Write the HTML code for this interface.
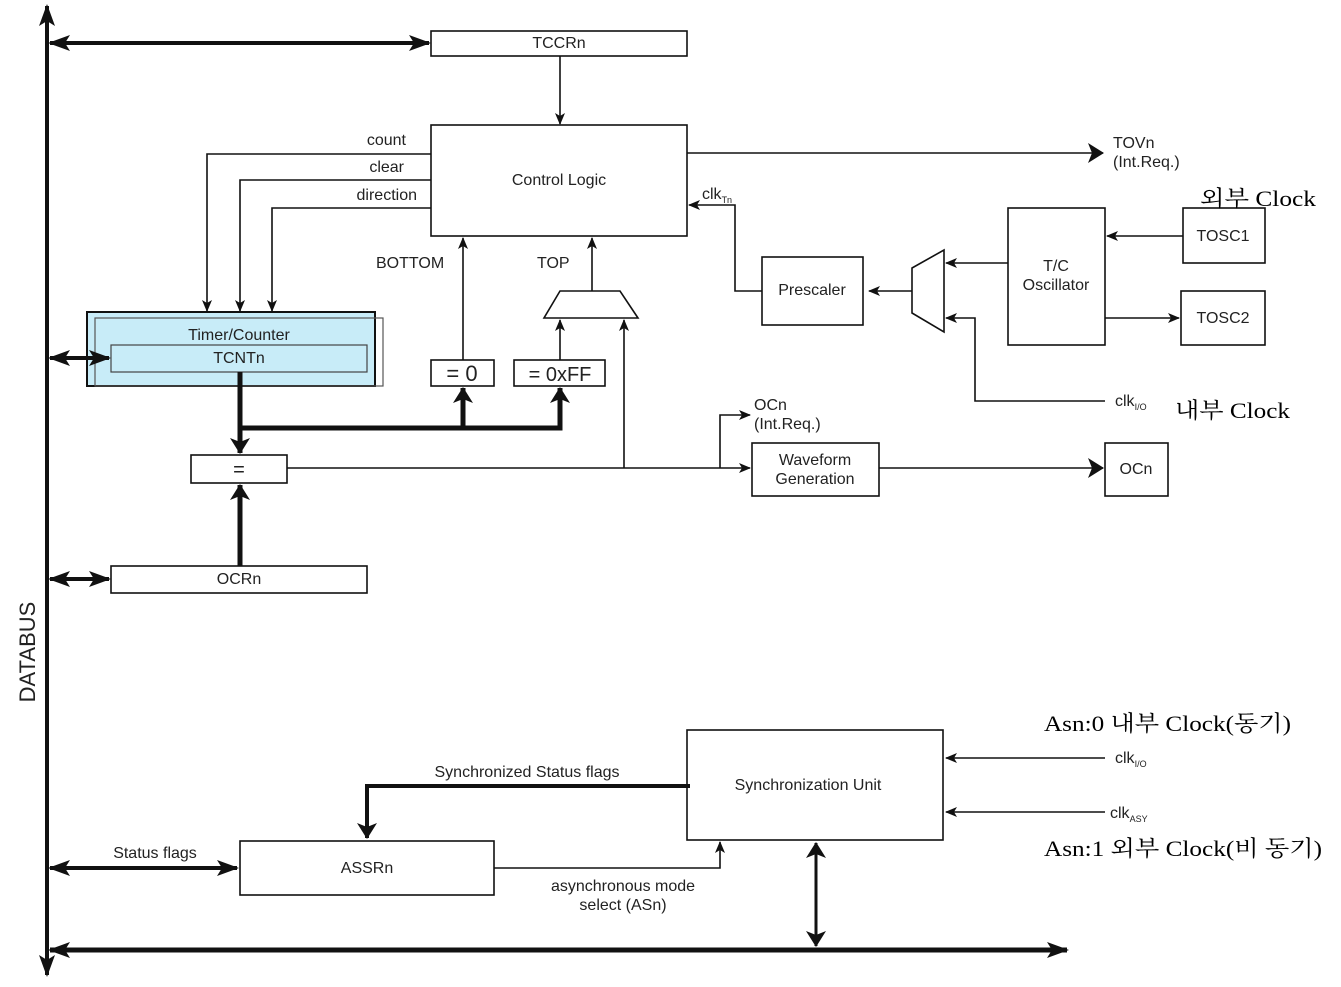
<!DOCTYPE html>
<html><head><meta charset="utf-8"><style>
html,body{margin:0;padding:0;background:#fff;}
svg{display:block;}
text{font-family:"Liberation Sans",sans-serif;fill:#222;font-size:16px;}
.k{font-family:"Liberation Serif","Noto Serif CJK SC","Noto Sans CJK KR",serif;font-size:22px;fill:#000;}
</style></head><body>
<svg width="1341" height="987" viewBox="0 0 1341 987" xmlns="http://www.w3.org/2000/svg">
<defs>
<marker id="a" markerWidth="12" markerHeight="10" refX="11" refY="5" orient="auto-start-reverse" markerUnits="userSpaceOnUse"><path d="M0,0 L12,5 L0,10 L3,5 z" fill="#111"/></marker>
<marker id="b" markerWidth="22" markerHeight="16" refX="20" refY="8" orient="auto-start-reverse" markerUnits="userSpaceOnUse"><path d="M0,0 L22,8 L0,16 L5,8 z" fill="#111"/></marker>
<marker id="c" markerWidth="16" markerHeight="20" refX="15" refY="10" orient="auto-start-reverse" markerUnits="userSpaceOnUse"><path d="M0,0 L16,10 L0,20 L4,10 z" fill="#111"/></marker>
</defs>
<g stroke="#111" fill="none" stroke-width="1.6">
<!-- databus -->
<line x1="47" y1="6" x2="47" y2="975" stroke-width="4" marker-start="url(#b)" marker-end="url(#b)"/>
<line x1="50" y1="950" x2="1067" y2="950" stroke-width="5" marker-start="url(#b)" marker-end="url(#b)"/>
<line x1="50" y1="43" x2="429" y2="43" stroke-width="4" marker-start="url(#b)" marker-end="url(#b)"/>
<line x1="50" y1="579" x2="109" y2="579" stroke-width="4" marker-start="url(#b)" marker-end="url(#b)"/>
<line x1="50" y1="868" x2="237" y2="868" stroke-width="4" marker-start="url(#b)" marker-end="url(#b)"/>
<!-- boxes -->
<rect x="431" y="31" width="256" height="25"/>
<rect x="431" y="125" width="256" height="111"/>
<rect x="87" y="312" width="288" height="74" fill="#c8ecf8" stroke-width="2"/>
<rect x="95" y="318" width="288" height="68" stroke="#555" stroke-width="1.2"/>
<rect x="111" y="345" width="256" height="27" stroke="#444" stroke-width="1.2"/>
<line x1="50" y1="358" x2="109" y2="358" stroke-width="4" marker-start="url(#b)" marker-end="url(#b)"/>
<rect x="431" y="360" width="63" height="26"/>
<rect x="514" y="360" width="91" height="26"/>
<rect x="191" y="455" width="96" height="28"/>
<rect x="111" y="566" width="256" height="27"/>
<rect x="752" y="443" width="127" height="53"/>
<rect x="1105" y="443" width="63" height="53"/>
<rect x="762" y="257" width="101" height="68"/>
<rect x="1008" y="208" width="97" height="137"/>
<rect x="1183" y="208" width="82" height="55"/>
<rect x="1181" y="291" width="84" height="54"/>
<rect x="687" y="730" width="256" height="110"/>
<rect x="240" y="841" width="254" height="54"/>
<path d="M560,291 L620,291 L638,318 L544,318 Z"/>
<path d="M944,250 L944,332 L912,313 L912,268 Z"/>
<!-- thin connectors -->
<line x1="560" y1="56" x2="560" y2="124" marker-end="url(#a)"/>
<line x1="687" y1="153" x2="1103" y2="153" marker-end="url(#c)"/>
<polyline points="431,154 207,154 207,311" marker-end="url(#a)"/>
<polyline points="431,180 240,180 240,311" marker-end="url(#a)"/>
<polyline points="431,208 272,208 272,311" marker-end="url(#a)"/>
<line x1="463" y1="360" x2="463" y2="238" marker-end="url(#a)"/>
<line x1="592" y1="291" x2="592" y2="238" marker-end="url(#a)"/>
<line x1="560" y1="360" x2="560" y2="320" marker-end="url(#a)"/>
<line x1="624" y1="468" x2="624" y2="320" marker-end="url(#a)"/>
<line x1="287" y1="468" x2="750" y2="468" marker-end="url(#a)"/>
<polyline points="720,468 720,415 750,415" marker-end="url(#a)"/>
<line x1="879" y1="468" x2="1103" y2="468" marker-end="url(#c)"/>
<polyline points="762,291 735,291 735,205 689,205" marker-end="url(#a)"/>
<line x1="912" y1="291" x2="869" y2="291" marker-end="url(#a)"/>
<line x1="1008" y1="263" x2="946" y2="263" marker-end="url(#a)"/>
<polyline points="1105,401 975,401 975,318 946,318" marker-end="url(#a)"/>
<line x1="1183" y1="236" x2="1107" y2="236" marker-end="url(#a)"/>
<line x1="1105" y1="318" x2="1179" y2="318" marker-end="url(#a)"/>
<line x1="1105" y1="758" x2="946" y2="758" marker-end="url(#a)"/>
<line x1="1105" y1="812" x2="946" y2="812" marker-end="url(#a)"/>
<polyline points="494,868 720,868 720,842" marker-end="url(#a)"/>
<!-- thick -->
<line x1="240" y1="372" x2="240" y2="453" stroke-width="5" marker-end="url(#c)"/>
<polyline points="240,428 560,428 560,388" stroke-width="5" marker-end="url(#c)"/>
<line x1="463" y1="428" x2="463" y2="388" stroke-width="5" marker-end="url(#c)"/>
<line x1="240" y1="566" x2="240" y2="485" stroke-width="5" marker-end="url(#c)"/>
<polyline points="690,786 367,786 367,838" stroke-width="4" marker-end="url(#c)"/>
<line x1="816" y1="843" x2="816" y2="946" stroke-width="3" marker-start="url(#c)" marker-end="url(#c)"/>
</g>
<g text-anchor="middle">
<text x="559" y="48">TCCRn</text>
<text x="559" y="185">Control Logic</text>
<text x="239" y="340">Timer/Counter</text>
<text x="239" y="363">TCNTn</text>
<text x="462" y="381" style="font-size:22px">= 0</text>
<text x="560" y="381" style="font-size:20px">= 0xFF</text>
<text x="239" y="476" style="font-size:20px">=</text>
<text x="239" y="584">OCRn</text>
<text x="815" y="465">Waveform</text>
<text x="815" y="484">Generation</text>
<text x="1136" y="474">OCn</text>
<text x="812" y="295">Prescaler</text>
<text x="1056" y="271">T/C</text>
<text x="1056" y="290">Oscillator</text>
<text x="1223" y="241">TOSC1</text>
<text x="1223" y="323">TOSC2</text>
<text x="808" y="790">Synchronization Unit</text>
<text x="367" y="873">ASSRn</text>
<text x="527" y="777">Synchronized Status flags</text>
<text x="155" y="858">Status flags</text>
<text x="623" y="891">asynchronous mode</text>
<text x="623" y="910">select (ASn)</text>
</g>
<g text-anchor="end">
<text x="406" y="145">count</text>
<text x="404" y="172">clear</text>
<text x="417" y="200">direction</text>
</g>
<text x="376" y="268">BOTTOM</text>
<text x="537" y="268">TOP</text>
<text x="1113" y="148">TOVn</text>
<text x="1113" y="167">(Int.Req.)</text>
<text x="702" y="199">clk<tspan style="font-size:9px" dy="4">Tn</tspan></text>
<text x="754" y="410">OCn</text>
<text x="754" y="429">(Int.Req.)</text>
<text x="1115" y="406">clk<tspan style="font-size:9px" dy="4">I/O</tspan></text>
<text x="1115" y="763">clk<tspan style="font-size:9px" dy="4">I/O</tspan></text>
<text x="1110" y="818">clk<tspan style="font-size:9px" dy="4">ASY</tspan></text>
<text x="35" y="652" transform="rotate(-90 35 652)" text-anchor="middle" style="font-size:22px">DATABUS</text>
<text class="k" x="1200" y="206" textLength="116" lengthAdjust="spacingAndGlyphs">외부 Clock</text>
<text class="k" x="1175" y="418" textLength="115" lengthAdjust="spacingAndGlyphs">내부 Clock</text>
<text class="k" x="1044" y="731" textLength="247" lengthAdjust="spacingAndGlyphs">Asn:0 내부 Clock(동기)</text>
<text class="k" x="1044" y="856" textLength="278" lengthAdjust="spacingAndGlyphs">Asn:1 외부 Clock(비 동기)</text>
</svg>
</body></html>
